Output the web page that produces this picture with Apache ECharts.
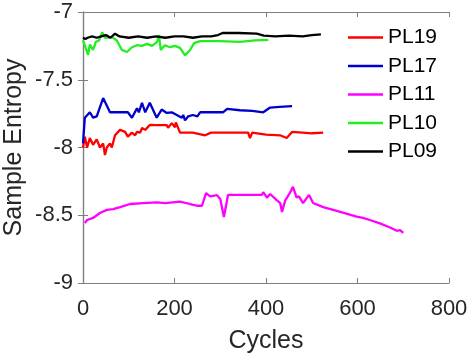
<!DOCTYPE html>
<html>
<head>
<meta charset="utf-8">
<script src="https://cdn.jsdelivr.net/npm/echarts@6/dist/echarts.min.js"></script>
<style>
html,body{margin:0;padding:0;background:#fff;}
#chart{width:474px;height:360px;}
</style>
</head>
<body>
<div id="chart"></div>
<script>
var seriesNames = ['PL19', 'PL17', 'PL11', 'PL10', 'PL09'];
var xTicks = [0, 200, 400, 600, 800];
var yTicks = [-9, -8.5, -8, -7.5, -7];

var pl19Cycles = [0, 4, 9, 15, 22, 30, 37, 44, 48, 52, 59, 63, 70, 81, 92, 98, 107, 114, 118, 125, 129, 136, 146, 160, 183, 186, 194, 201, 203, 212, 240, 267, 280, 321, 361, 365, 370, 400, 431, 445, 457, 480, 500, 525];
var pl19Values = [-8.00, -7.92, -8.00, -7.93, -7.98, -7.94, -8.00, -7.97, -8.055, -8.00, -7.97, -8.00, -7.91, -7.87, -7.885, -7.92, -7.89, -7.91, -7.885, -7.89, -7.856, -7.87, -7.834, -7.835, -7.835, -7.855, -7.82, -7.85, -7.815, -7.89, -7.89, -7.91, -7.89, -7.89, -7.89, -7.93, -7.89, -7.905, -7.91, -7.93, -7.885, -7.89, -7.895, -7.89];

var pl17Cycles = [0, 4, 15, 22, 30, 44, 59, 80, 98, 107, 118, 122, 129, 136, 146, 161, 172, 183, 194, 205, 216, 219, 223, 230, 240, 250, 256, 280, 306, 315, 343, 370, 394, 409, 430, 457];
var pl17Values = [-7.97, -7.78, -7.74, -7.78, -7.77, -7.635, -7.74, -7.74, -7.74, -7.78, -7.71, -7.74, -7.67, -7.74, -7.67, -7.78, -7.72, -7.745, -7.74, -7.76, -7.78, -7.76, -7.80, -7.77, -7.76, -7.77, -7.74, -7.74, -7.74, -7.715, -7.725, -7.73, -7.74, -7.705, -7.70, -7.695];

var pl11Cycles = [4, 9, 22, 37, 52, 66, 81, 103, 131, 162, 180, 212, 234, 251, 260, 269, 278, 293, 300, 308, 317, 343, 391, 394, 402, 409, 424, 431, 435, 442, 446, 452, 459, 467, 472, 481, 494, 503, 525, 547, 568, 598, 612, 627, 649, 671, 686, 693, 697, 700];
var pl11Values = [-8.557, -8.535, -8.52, -8.483, -8.46, -8.455, -8.44, -8.417, -8.41, -8.405, -8.41, -8.40, -8.417, -8.43, -8.43, -8.336, -8.36, -8.352, -8.38, -8.513, -8.35, -8.35, -8.35, -8.33, -8.37, -8.343, -8.39, -8.41, -8.476, -8.39, -8.40, -8.336, -8.29, -8.37, -8.36, -8.41, -8.35, -8.41, -8.44, -8.46, -8.48, -8.51, -8.52, -8.535, -8.56, -8.59, -8.615, -8.61, -8.60, -8.63];

var pl10Cycles = [0, 11, 15, 22, 28, 35, 42, 48, 63, 74, 85, 96, 107, 118, 129, 140, 151, 162, 166, 170, 179, 190, 201, 212, 223, 227, 234, 243, 256, 300, 343, 376, 405];
var pl10Values = [-7.207, -7.317, -7.24, -7.28, -7.22, -7.21, -7.15, -7.19, -7.185, -7.21, -7.28, -7.295, -7.26, -7.245, -7.25, -7.235, -7.25, -7.22, -7.17, -7.28, -7.245, -7.26, -7.25, -7.265, -7.32, -7.33, -7.28, -7.23, -7.215, -7.215, -7.22, -7.21, -7.205];

var pl09Cycles = [0, 5, 10, 20, 30, 40, 50, 60, 70, 80, 100, 120, 140, 160, 180, 200, 220, 240, 260, 280, 295, 305, 340, 380, 395, 420, 450, 480, 500, 520];
var pl09Values = [-7.19, -7.20, -7.19, -7.18, -7.19, -7.18, -7.17, -7.19, -7.16, -7.18, -7.19, -7.18, -7.19, -7.18, -7.19, -7.18, -7.18, -7.19, -7.18, -7.18, -7.17, -7.155, -7.155, -7.16, -7.175, -7.18, -7.175, -7.18, -7.17, -7.165];

var colors = ['#FF0000', '#0000CC', '#FF00FF', '#22EE22', '#000000'];

function zip(xs, ys) {
  var out = [];
  for (var i = 0; i < xs.length; i++) out.push([xs[i], ys[i]]);
  return out;
}
var allCycles = [pl19Cycles, pl17Cycles, pl11Cycles, pl10Cycles, pl09Cycles];
var allValues = [pl19Values, pl17Values, pl11Values, pl10Values, pl09Values];

var FONT = 'Liberation Sans, Arial, sans-serif';
var axisGray = '#7f7f7f';
var textColor = '#262626';

var series = seriesNames.map(function (name, i) {
  return {
    name: name,
    type: 'line',
    data: zip(allCycles[i], allValues[i]),
    symbol: 'none',
    showSymbol: false,
    animation: false,
    lineStyle: { color: colors[i], width: 2.3 },
    itemStyle: { color: colors[i] },
    xAxisIndex: 0,
    yAxisIndex: 0
  };
});

var chart = echarts.init(document.getElementById('chart'), null, { renderer: 'canvas' });
chart.setOption({
  backgroundColor: '#ffffff',
  animation: false,
  grid: { left: 83, top: 12, right: 25, bottom: 77, containLabel: false, outerBoundsMode: 'none' },
  legend: {
    data: seriesNames.map(function (n) { return { name: n, icon: 'rect' }; }),
    orient: 'vertical',
    left: 343,
    top: 22,
    padding: 5,
    itemWidth: 35,
    itemHeight: 2.5,
    itemGap: 7.5,
    textStyle: { fontFamily: FONT, fontSize: 21, lineHeight: 20, color: '#000' }
  },
  xAxis: [{
    type: 'value',
    min: xTicks[0],
    max: xTicks[xTicks.length - 1],
    interval: 200,
    name: 'Cycles',
    nameLocation: 'middle',
    nameGap: 46,
    nameMoveOverlap: false,
    nameTextStyle: { fontFamily: FONT, fontSize: 25, color: textColor },
    axisLine: { show: true, lineStyle: { color: axisGray, width: 1.2 } },
    axisTick: { show: true, inside: true, length: 5, lineStyle: { color: axisGray } },
    axisLabel: { fontFamily: FONT, fontSize: 22, color: textColor, margin: 15 },
    splitLine: { show: false }
  }, {
    type: 'value',
    position: 'top',
    min: xTicks[0],
    max: xTicks[xTicks.length - 1],
    interval: 200,
    axisLine: { show: true, lineStyle: { color: axisGray, width: 1.2 } },
    axisTick: { show: true, inside: true, length: 5, lineStyle: { color: axisGray } },
    axisLabel: { show: false },
    splitLine: { show: false }
  }],
  yAxis: [{
    type: 'value',
    min: yTicks[0],
    max: yTicks[yTicks.length - 1],
    interval: 0.5,
    name: 'Sample Entropy',
    nameLocation: 'middle',
    nameGap: 56,
    nameMoveOverlap: false,
    nameTextStyle: { fontFamily: FONT, fontSize: 25, color: textColor },
    axisLine: { show: true, lineStyle: { color: axisGray, width: 1.2 } },
    axisTick: { show: true, inside: true, length: 5, lineStyle: { color: axisGray } },
    axisLabel: { fontFamily: FONT, fontSize: 22, color: textColor, margin: 10 },
    splitLine: { show: false }
  }, {
    type: 'value',
    position: 'right',
    min: yTicks[0],
    max: yTicks[yTicks.length - 1],
    interval: 0.5,
    axisLine: { show: true, lineStyle: { color: axisGray, width: 1.2 } },
    axisTick: { show: true, inside: true, length: 5, lineStyle: { color: axisGray } },
    axisLabel: { show: false },
    splitLine: { show: false }
  }],
  series: series
});
</script>
</body>
</html>
